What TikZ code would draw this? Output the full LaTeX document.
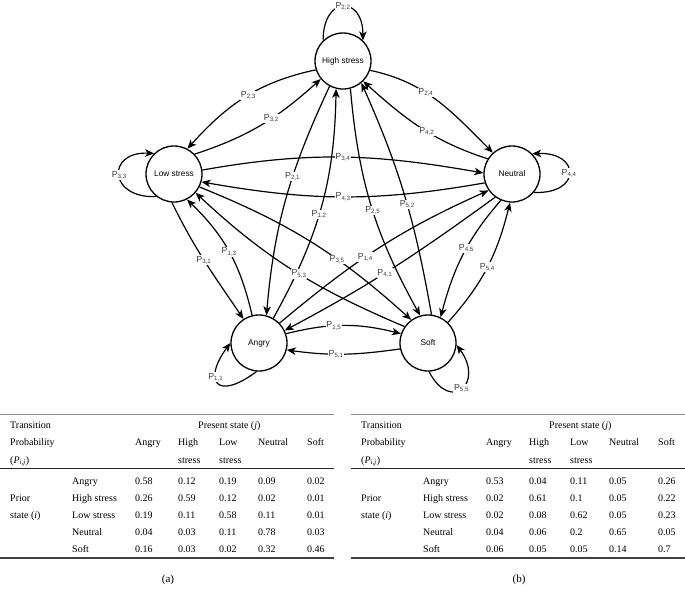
\documentclass[tikz,border=0pt]{standalone}
\usepackage{fontspec}
\setmainfont{Liberation Serif}
\setsansfont{Liberation Sans}
\usepackage{tikz}
\usetikzlibrary{arrows.meta,calc}
\definecolor{labgray}{RGB}{60,60,60}
\definecolor{rulegray}{RGB}{140,140,140}
\tikzset{
  statenode/.style={circle,draw=black,line width=1.3pt,minimum size=56pt,inner sep=0pt,font=\sffamily\fontsize{8.3}{10}\selectfont},
  trarr/.style={-{Stealth[length=9pt,width=7.5pt,inset=2.5pt]},line width=1.2pt},
  plab/.style={fill=white,inner sep=0.6pt,font=\sffamily\fontsize{8.8}{9}\selectfont,text=labgray},
  cell/.style={anchor=base west,inner sep=0pt,font=\fontsize{10}{12}\selectfont},
  toprule/.style={draw=rulegray,line width=1.6pt},
  midrule/.style={draw=black!85,line width=0.8pt},
  botrule/.style={draw=black!75,line width=1.2pt}
}
\newcommand{\pij}[2]{P\textsubscript{#1,#2}}

\begin{document}
\begin{tikzpicture}[x=1pt,y=1pt]
  \useasboundingbox (0,0) rectangle (685,-590);
  % states
  \node[statenode] (hs) at (343,-61)  {High stress};
  \node[statenode] (ls) at (174,-174) {Low stress};
  \node[statenode] (nt) at (512,-174) {Neutral};
  \node[statenode] (an) at (259,-343) {Angry};
  \node[statenode] (so) at (428,-343) {Soft};
  % self transitions
  \draw[trarr] (hs.134) .. controls +(0,45) and +(0,45) .. (hs.46) node[plab,pos=.5] {\pij{2}{2}};
  \draw[trarr] (ls.232) .. controls +(-48,-2) and +(-48,2) .. (ls.134) node[plab,pos=.5] {\pij{3}{3}};
  \draw[trarr] (nt.320) .. controls +(48,-2) and +(48,2) .. (nt.45) node[plab,pos=.5] {\pij{4}{4}};
  \draw[trarr] (an.265) .. controls +(-40,-30) and +(-28,-38) .. (an.180) node[plab,pos=.62] {\pij{1}{1}};
  \draw[trarr] (so.272) .. controls +(22,-42) and +(28,-38) .. (so.356) node[plab,pos=.5] {\pij{5}{5}};
  % transitions between states
  \draw[trarr] (hs.198) to[out=192,in=48] node[plab,pos=.47] {\pij{2}{3}} (ls.62);
  \draw[trarr] (ls.44) to[out=18,in=222] node[plab,pos=.58] {\pij{3}{2}} (hs.219);
  \draw[trarr] (hs.341) to[out=348,in=135] node[plab,pos=.4] {\pij{2}{4}} (nt.132);
  \draw[trarr] (nt.148) to[out=162,in=318] node[plab,pos=.45] {\pij{4}{2}} (hs.315);
  \draw[trarr] (ls.8) to[out=10,in=170] node[plab,pos=.5] {\pij{3}{4}} (nt.178);
  \draw[trarr] (nt.198) to[out=190,in=350] node[plab,pos=.5] {\pij{4}{3}} (ls.344);
  \draw[trarr] (hs.242) to[out=245,in=85] node[plab,pos=.4] {\pij{2}{1}} (an.75);
  \draw[trarr] (an.60) to[out=61,in=269] node[plab,pos=.47] {\pij{1}{2}} (hs.256);
  \draw[trarr] (hs.285) to[out=275,in=119] node[plab,pos=.52] {\pij{2}{5}} (so.106);
  \draw[trarr] (so.83) to[out=100,in=294] node[plab,pos=.46] {\pij{5}{2}} (hs.310);
  \draw[trarr] (ls.266) to[out=296,in=124] node[plab,pos=.48] {\pij{3}{1}} (an.123);
  \draw[trarr] (an.104) to[out=103,in=316] node[plab,pos=.5] {\pij{1}{3}} (ls.297);
  \draw[trarr] (ls.333) to[out=338,in=138] node[plab,pos=.63] {\pij{3}{5}} (so.126);
  \draw[trarr] (so.145) to[out=157,in=317] node[plab,pos=.47] {\pij{5}{3}} (ls.319);
  \draw[trarr] (an.44) to[out=40,in=204] node[plab,pos=.43] {\pij{1}{4}} (nt.215);
  \draw[trarr] (nt.234) to[out=216,in=28] node[plab,pos=.54] {\pij{4}{1}} (an.26);
  \draw[trarr] (nt.247) to[out=229,in=75] node[plab,pos=.44] {\pij{4}{5}} (so.64);
  \draw[trarr] (so.46) to[out=48,in=256] node[plab,pos=.5] {\pij{5}{4}} (nt.266);
  \draw[trarr] (an.19) to[out=14,in=166] node[plab,pos=.41] {\pij{1}{5}} (so.161);
  \draw[trarr] (so.192) to[out=188,in=352] node[plab,pos=.57] {\pij{5}{1}} (an.346);
  % tables (a) and (b)
  \foreach \tb/\dx in {a/0,b/351} {
    \begin{scope}[xshift=\dx]
      \draw[toprule] (0,-414.5) -- (334,-414.5);
      \draw[midrule] (0,-468.5) -- (334,-468.5);
      \draw[botrule] (0,-558) -- (334,-558);
      \node[cell] (\tb-tr) at (10,-428) {Transition};
      \node[cell] (\tb-pb) at (10,-445.5) {Probability};
      \node[cell] (\tb-pij) at (10,-463) {(\textit{P}\textsubscript{\textit{i,j}})};
      \node[cell] (\tb-ps) at (198,-428) {Present state (\textit{j})};
      \foreach \c/\x/\ha/\hb in {1/135/Angry/,2/178/High/stress,3/219/Low/stress,4/258/Neutral/,5/307/Soft/} {
        \node[cell] (\tb-h\c) at (\x,-445.5) {\ha};
        \node[cell] (\tb-s\c) at (\x,-463) {\hb};
      }
      \foreach \r/\nm/\y in {1/Angry/484,2/High stress/501,3/Low stress/518,4/Neutral/535,5/Soft/552}
        \node[cell] (\tb-r\r) at (72,-\y) {\nm};
      \node[cell] (\tb-prior) at (10,-501) {Prior};
      \node[cell] (\tb-state) at (10,-518) {state (\textit{i})};
      \node[font=\fontsize{11}{13}\selectfont] (\tb-cap) at (168,-580) {(\tb)};
    \end{scope}
  }
  \foreach \r/\y/\va/\vb/\vc/\vd/\ve in {1/484/0.58/0.12/0.19/0.09/0.02,2/501/0.26/0.59/0.12/0.02/0.01,3/518/0.19/0.11/0.58/0.11/0.01,4/535/0.04/0.03/0.11/0.78/0.03,5/552/0.16/0.03/0.02/0.32/0.46}
    \foreach \c/\v/\x in {1/\va/135,2/\vb/178,3/\vc/219,4/\vd/258,5/\ve/307}
      \node[cell] (a-\r-\c) at (\x,-\y) {\v};
  \begin{scope}[xshift=351]
    \foreach \r/\y/\va/\vb/\vc/\vd/\ve in {1/484/0.53/0.04/0.11/0.05/0.26,2/501/0.02/0.61/0.1/0.05/0.22,3/518/0.02/0.08/0.62/0.05/0.23,4/535/0.04/0.06/0.2/0.65/0.05,5/552/0.06/0.05/0.05/0.14/0.7}
      \foreach \c/\v/\x in {1/\va/135,2/\vb/178,3/\vc/219,4/\vd/258,5/\ve/307}
        \node[cell] (b-\r-\c) at (\x,-\y) {\v};
  \end{scope}
\end{tikzpicture}
\end{document}
